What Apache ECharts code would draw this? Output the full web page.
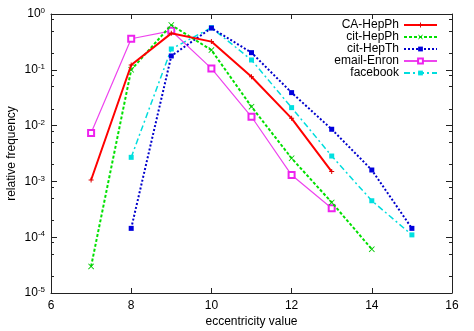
<!DOCTYPE html>
<html>
<head>
<meta charset="utf-8">
<script src="https://cdn.jsdelivr.net/npm/echarts@6/dist/echarts.min.js"></script>
<style>
html,body{margin:0;padding:0;background:#fff;}
#chart{width:474px;height:331px;}
</style>
</head>
<body>
<div id="chart"></div>
<script>
// Data
const seriesNames = ['CA-HepPh', 'cit-HepPh', 'cit-HepTh', 'email-Enron', 'facebook'];
const caHepPhX = [7, 8, 9, 10, 11, 12, 13];
const caHepPhY = [0.00106, 0.122, 0.45, 0.32, 0.075, 0.0135, 0.0015];
const citHepPhX = [7, 8, 9, 10, 11, 12, 13, 14];
const citHepPhY = [3.0e-5, 0.1, 0.635, 0.226, 0.0218, 0.0026, 4.2e-4, 6.1e-5];
const citHepThX = [8, 9, 10, 11, 12, 13, 14, 15];
const citHepThY = [1.44e-4, 0.177, 0.56, 0.203, 0.039, 0.0086, 0.0016, 1.44e-4];
const emailEnronX = [7, 8, 9, 10, 11, 12, 13];
const emailEnronY = [0.0074, 0.36, 0.50, 0.106, 0.0144, 0.0013, 3.3e-4];
const facebookX = [8, 9, 10, 11, 12, 13, 14, 15];
const facebookY = [0.0027, 0.236, 0.569, 0.15, 0.021, 0.00285, 4.5e-4, 1.1e-4];

const xTicks = [6, 8, 10, 12, 14, 16];
const yMajorTicks = [1e-5, 1e-4, 1e-3, 1e-2, 1e-1, 1];
const yMinorMultipliers = [2, 5, 8];

function pairs(xs, ys) { return xs.map((x, i) => [x, ys[i]]); }
const yMinorTicks = [];
for (let d = 0; d < yMajorTicks.length - 1; d++) {
  yMinorMultipliers.forEach(m => yMinorTicks.push(+(m * yMajorTicks[d]).toPrecision(3)));
}

const plusPath = 'path://M4,0H6V4H10V6H6V10H4V6H0V4H4Z';
const crossPath = 'path://M1,0L5,4L9,0L10,1L6,5L10,9L9,10L5,6L1,10L0,9L4,5L0,1Z';

const axisColor = '#222';
const fontFamily = '"Liberation Sans", Arial, Helvetica, sans-serif';

const chart = echarts.init(document.getElementById('chart'), null, {renderer: 'canvas'});
const baseX = {
  type: 'value', min: xTicks[0], max: xTicks[xTicks.length - 1], interval: 2,
  axisLine: {show: true, onZero: false, lineStyle: {color: axisColor, width: 1}},
  axisTick: {show: true, inside: true, length: 5, lineStyle: {color: axisColor}},
  splitLine: {show: false}
};
const baseY = {
  type: 'log', logBase: 10, min: yMajorTicks[0], max: yMajorTicks[yMajorTicks.length - 1],
  axisLine: {show: true, onZero: false, lineStyle: {color: axisColor, width: 1}},
  axisTick: {show: true, inside: true, length: 6, lineStyle: {color: axisColor}},
  splitLine: {show: false}
};
const option = {
  animation: false,
  backgroundColor: '#fff',
  textStyle: {fontFamily: fontFamily},
  grid: {left: 51, right: 22, top: 14, bottom: 38, containLabel: false, outerBoundsMode: 'none'},
  legend: {
    data: seriesNames,
    orient: 'vertical',
    right: 36,
    top: 19,
    align: 'right',
    itemWidth: 33,
    itemHeight: 6,
    itemGap: 0,
    padding: 0,
    textStyle: {fontSize: 12, lineHeight: 12, color: '#000', fontFamily: fontFamily}
  },
  xAxis: [
    Object.assign({}, baseX, {
      position: 'bottom',
      axisLabel: {show: true, fontSize: 12, color: '#000', margin: 7, fontFamily: fontFamily},
      name: 'eccentricity value', nameLocation: 'middle', nameGap: 23, nameMoveOverlap: false,
      nameTextStyle: {fontSize: 12, color: '#000', fontFamily: fontFamily}
    }),
    Object.assign({}, baseX, {position: 'top', axisLabel: {show: false}})
  ],
  yAxis: [
    Object.assign({}, baseY, {
      position: 'left',
      axisLabel: {
        show: true, margin: 6, color: '#000', fontSize: 12, fontFamily: fontFamily,
        formatter: v => '10{sup|' + Math.round(Math.log10(v)) + '}',
        rich: {sup: {fontSize: 8, verticalAlign: 'top', padding: [0, 0, 6, 0], color: '#000', fontFamily: fontFamily}}
      },
      name: 'relative frequency', nameLocation: 'middle', nameGap: 33, nameMoveOverlap: false,
      nameTextStyle: {fontSize: 12, color: '#000', fontFamily: fontFamily}
    }),
    Object.assign({}, baseY, {position: 'right', axisLabel: {show: false}}),
    Object.assign({}, baseY, {
      position: 'left', axisLine: {show: false}, axisLabel: {show: false},
      axisTick: {show: true, inside: true, length: 3, customValues: yMinorTicks, lineStyle: {color: axisColor}}
    }),
    Object.assign({}, baseY, {
      position: 'right', axisLine: {show: false}, axisLabel: {show: false},
      axisTick: {show: true, inside: true, length: 3, customValues: yMinorTicks, lineStyle: {color: axisColor}}
    })
  ],
  series: [
    {
      name: 'CA-HepPh', type: 'line', data: pairs(caHepPhX, caHepPhY),
      symbol: plusPath, symbolSize: 5, symbolKeepAspect: true,
      lineStyle: {color: '#ff0000', width: 2, type: 'solid'},
      itemStyle: {color: '#e00000'}, z: 5
    },
    {
      name: 'cit-HepPh', type: 'line', data: pairs(citHepPhX, citHepPhY),
      symbol: crossPath, symbolSize: 6, symbolKeepAspect: true,
      lineStyle: {color: '#00e000', width: 2, type: [3, 2]},
      itemStyle: {color: '#00c800'}, z: 4
    },
    {
      name: 'cit-HepTh', type: 'line', data: pairs(citHepThX, citHepThY),
      symbol: 'rect', symbolSize: 5,
      lineStyle: {color: '#0000cc', width: 2, type: [2, 2]},
      itemStyle: {color: '#0000dd'}, z: 3
    },
    {
      name: 'email-Enron', type: 'line', data: pairs(emailEnronX, emailEnronY),
      symbol: 'emptyRect', symbolSize: 6,
      lineStyle: {color: '#ee44ee', width: 1.2, type: 'solid'},
      itemStyle: {color: '#ee22ee', borderColor: '#ee22ee', borderWidth: 1.5}, z: 2
    },
    {
      name: 'facebook', type: 'line', data: pairs(facebookX, facebookY),
      symbol: 'rect', symbolSize: 5,
      lineStyle: {color: '#00dddd', width: 1.5, type: [6, 3, 2, 3]},
      itemStyle: {color: '#00e0e0'}, z: 1
    }
  ]
};
chart.setOption(option);
</script>
</body>
</html>
